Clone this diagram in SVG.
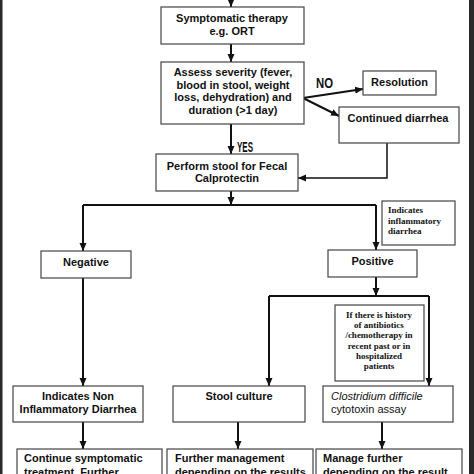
<svg xmlns="http://www.w3.org/2000/svg" width="474" height="474" viewBox="0 0 474 474">
<style>
.box{fill:#fff;stroke:#444;stroke-width:1.2}
.t{font-family:"Liberation Sans",Arial,sans-serif;font-size:11px;font-weight:bold;fill:#111}
.c{text-anchor:middle}
.s{font-family:"Liberation Serif","Times New Roman",serif;font-size:9px;font-weight:bold;fill:#111}
.n{font-weight:normal}
.lbl{font-family:"Liberation Sans",Arial,sans-serif;font-weight:bold;fill:#111}
.ln{fill:none;stroke:#111;stroke-width:2}
.thin{fill:none;stroke:#111;stroke-width:1.5}
</style>
<defs>
<marker id="ah" markerUnits="userSpaceOnUse" markerWidth="8" markerHeight="8" refX="8" refY="4" orient="auto">
<path d="M0,0.5 L8,4 L0,7.5 z" fill="#111"/>
</marker>
</defs>
<rect x="0" y="0" width="474" height="474" fill="#fff"/>
<rect x="0" y="0" width="2.5" height="474" fill="#2a2a2a"/>
<rect x="469" y="0" width="5" height="474" fill="#2a2a2a"/>

<g id="connectors">
<path class="ln" d="M231,0 V7" marker-end="url(#ah)"/>
<path class="ln" d="M231,44 V62" marker-end="url(#ah)"/>
<path class="ln" d="M303,98 L363,89" marker-end="url(#ah)"/>
<path class="ln" d="M303,98 L339,116" marker-end="url(#ah)"/>
<path class="ln" d="M231,124 V154" marker-end="url(#ah)"/>
<path class="thin" d="M387,143 V178 H298" marker-end="url(#ah)"/>
<path class="ln" d="M231,191 V205"/>
<path class="ln" d="M231,196 V205" marker-end="url(#ah)"/>
<path class="ln" d="M83,205 H376"/>
<path class="ln" d="M83,205 V251" marker-end="url(#ah)"/>
<path class="ln" d="M376,205 V250" marker-end="url(#ah)"/>
<path class="ln" d="M376,277 V296" marker-end="url(#ah)"/>
<path class="ln" d="M269,296 H429"/>
<path class="ln" d="M269,296 V386" marker-end="url(#ah)"/>
<path class="ln" d="M429,296 V386" marker-end="url(#ah)"/>
<path class="ln" d="M83,278 V386" marker-end="url(#ah)"/>
<path class="ln" d="M83,422 V449" marker-end="url(#ah)"/>
<path class="ln" d="M238,422 V449" marker-end="url(#ah)"/>
<path class="ln" d="M382,422 V449" marker-end="url(#ah)"/>
<text class="lbl" x="316" y="88" font-size="15" textLength="17" lengthAdjust="spacingAndGlyphs">NO</text>
<text class="lbl" x="237" y="152" font-size="14" textLength="16" lengthAdjust="spacingAndGlyphs">YES</text>
</g>

<g id="symptomatic">
<rect class="box" x="161" y="7" width="143" height="37"/>
<text class="t c" x="232" y="22">Symptomatic therapy</text>
<text class="t c" x="232" y="35">e.g. ORT</text>
</g>

<g id="assess">
<rect class="box" x="161" y="62" width="143" height="62"/>
<text class="t c" x="233" y="76">Assess severity (fever,</text>
<text class="t c" x="233" y="88.5">blood in stool, weight</text>
<text class="t c" x="233" y="101">loss, dehydration) and</text>
<text class="t c" x="233" y="114">duration (&gt;1 day)</text>
</g>

<g id="resolution">
<rect class="box" x="363" y="71" width="73" height="24"/>
<text class="t c" x="399.5" y="86">Resolution</text>
</g>

<g id="continued">
<rect class="box" x="339" y="107" width="120" height="36"/>
<text class="t c" x="398" y="122">Continued diarrhea</text>
</g>

<g id="calprotectin">
<rect class="box" x="156" y="154" width="142" height="37"/>
<text class="t c" x="227" y="170">Perform stool for Fecal</text>
<text class="t c" x="227" y="182">Calprotectin</text>
</g>

<g id="negative">
<rect class="box" x="41" y="251" width="90" height="27"/>
<text class="t c" x="86" y="266">Negative</text>
</g>

<g id="positive">
<rect class="box" x="328" y="250" width="89" height="27"/>
<text class="t c" x="372.5" y="265">Positive</text>
</g>

<g id="inflammatory-note">
<rect class="box" x="382" y="201" width="73" height="44"/>
<text class="s" x="388" y="213">Indicates</text>
<text class="s" x="388" y="223.5">inflammatory</text>
<text class="s" x="388" y="234">diarrhea</text>
</g>

<g id="history-note">
<rect class="box" x="335" y="305" width="89" height="76"/>
<text class="s c" x="379" y="318">If there is history</text>
<text class="s c" x="379" y="328">of antibiotics</text>
<text class="s c" x="379" y="338">/chemotherapy in</text>
<text class="s c" x="379" y="349">recent past or in</text>
<text class="s c" x="379" y="359">hospitalized</text>
<text class="s c" x="379" y="369">patients</text>
</g>

<g id="noninflammatory">
<rect class="box" x="13" y="386" width="130" height="36"/>
<text class="t c" x="78" y="400">Indicates Non</text>
<text class="t c" x="78" y="413">Inflammatory Diarrhea</text>
</g>

<g id="stoolculture">
<rect class="box" x="173" y="386" width="132" height="36"/>
<text class="t c" x="239" y="400">Stool culture</text>
</g>

<g id="cdiff">
<rect class="box" x="323" y="386" width="130" height="36"/>
<text class="t n" x="331" y="400" font-style="italic">Clostridium difficile</text>
<text class="t n" x="331" y="413">cytotoxin assay</text>
</g>

<g id="continue-symptomatic">
<rect class="box" x="17" y="449" width="145" height="40"/>
<text class="t" x="24" y="462">Continue symptomatic</text>
<text class="t" x="24" y="476">treatment. Further</text>
</g>

<g id="further-management">
<rect class="box" x="167" y="449" width="146" height="40"/>
<text class="t" x="175" y="462">Further management</text>
<text class="t" x="175" y="476">depending on the results</text>
</g>

<g id="manage-further">
<rect class="box" x="316" y="449" width="146" height="40"/>
<text class="t" x="323" y="462">Manage further</text>
<text class="t" x="323" y="476">depending on the result</text>
</g>
</svg>
